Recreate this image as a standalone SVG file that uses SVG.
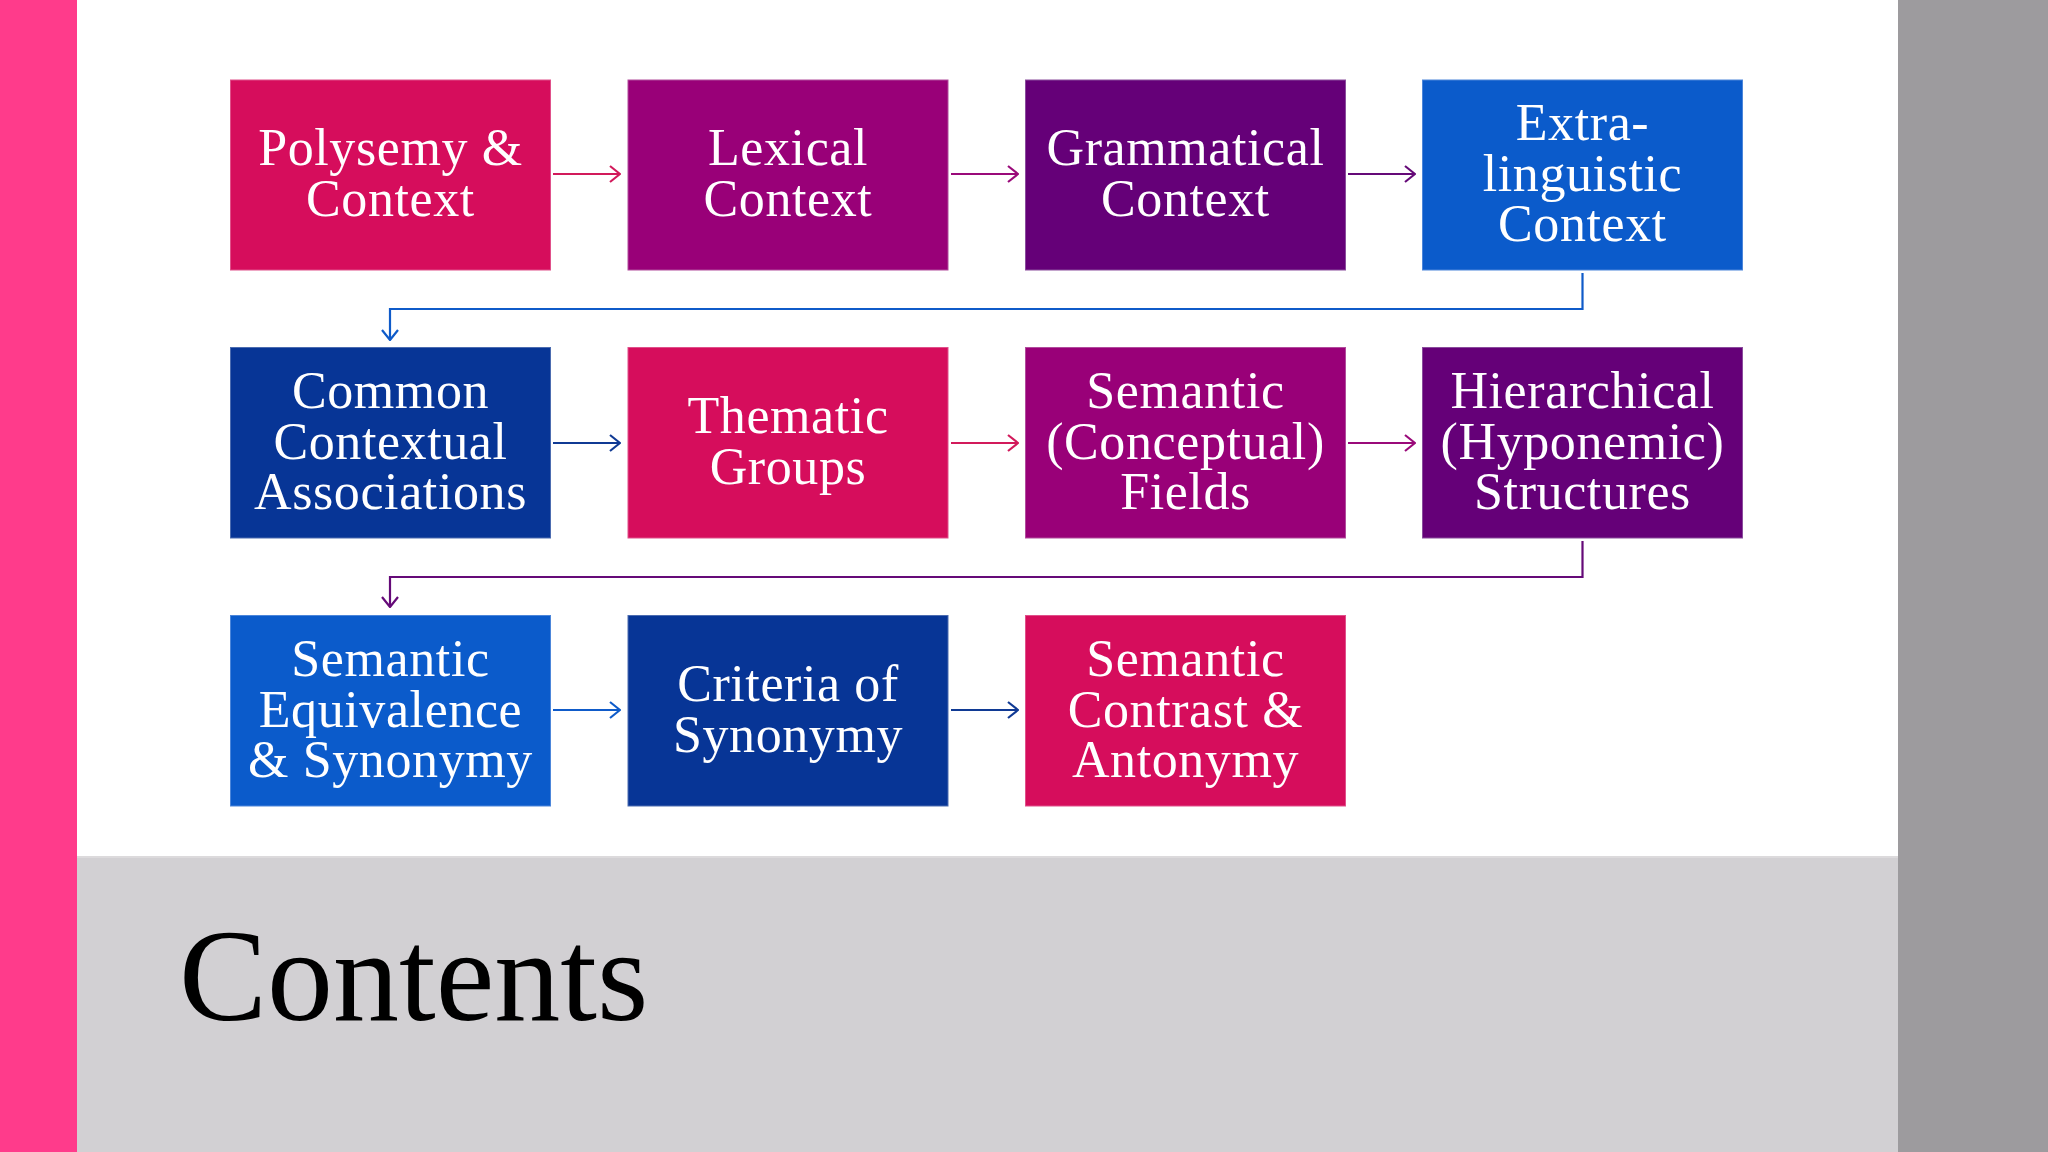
<svg xmlns="http://www.w3.org/2000/svg" width="2048" height="1152" viewBox="0 0 2048 1152">
  <style>
    .lbl { font-family: "Liberation Serif", "Times New Roman", serif; font-size: 52px; letter-spacing: 0.6px; fill: #ffffff; text-anchor: middle; }
    .title { font-family: "Liberation Serif", "Times New Roman", serif; font-size: 132px; fill: #000000; }
    .conn { fill: none; stroke-width: 2.2; }
    .pink { fill: #D60D5C; stroke: #E0508A; stroke-width: 1; }
    .mag { fill: #990078; stroke: #B14C9C; stroke-width: 1; }
    .pur { fill: #650078; stroke: #8A4C9C; stroke-width: 1; }
    .blu { fill: #0B5BCB; stroke: #4C86DA; stroke-width: 1; }
    .dbl { fill: #073596; stroke: #4C6CB0; stroke-width: 1; }
  </style>
  <defs>
    <marker id="hPink" viewBox="0 0 12 18" refX="11" refY="9" markerWidth="12" markerHeight="18" markerUnits="userSpaceOnUse" orient="auto">
      <path d="M1,1 L11,9 L1,17" fill="none" stroke="#D21A5B" stroke-width="2.2"/>
    </marker>
    <marker id="hMag" viewBox="0 0 12 18" refX="11" refY="9" markerWidth="12" markerHeight="18" markerUnits="userSpaceOnUse" orient="auto">
      <path d="M1,1 L11,9 L1,17" fill="none" stroke="#9A0A7A" stroke-width="2.2"/>
    </marker>
    <marker id="hPur" viewBox="0 0 12 18" refX="11" refY="9" markerWidth="12" markerHeight="18" markerUnits="userSpaceOnUse" orient="auto">
      <path d="M1,1 L11,9 L1,17" fill="none" stroke="#650A78" stroke-width="2.2"/>
    </marker>
    <marker id="hBlu" viewBox="0 0 12 18" refX="11" refY="9" markerWidth="12" markerHeight="18" markerUnits="userSpaceOnUse" orient="auto">
      <path d="M1,1 L11,9 L1,17" fill="none" stroke="#0F5BC9" stroke-width="2.2"/>
    </marker>
    <marker id="hDbl" viewBox="0 0 12 18" refX="11" refY="9" markerWidth="12" markerHeight="18" markerUnits="userSpaceOnUse" orient="auto">
      <path d="M1,1 L11,9 L1,17" fill="none" stroke="#103A94" stroke-width="2.2"/>
    </marker>
  </defs>

  <!-- background -->
  <rect x="0" y="0" width="2048" height="1152" fill="#ffffff"/>
  <rect x="77" y="857" width="1821" height="295" fill="#D2D0D3"/>
  <rect x="77" y="856" width="1821" height="2" fill="#DCDADC"/>
  <rect x="0" y="0" width="77" height="1152" fill="#FF3B8B"/>
  <rect x="1898" y="0" width="150" height="1152" fill="#9D9B9E"/>
  <text class="title" x="179" y="1020">Contents</text>

  <!-- connectors -->
  <g id="connectors">
    <path class="conn" stroke="#D21A5B" d="M553,174 H620" marker-end="url(#hPink)"/>
    <path class="conn" stroke="#9A0A7A" d="M951,174 H1018" marker-end="url(#hMag)"/>
    <path class="conn" stroke="#650A78" d="M1348,174 H1415" marker-end="url(#hPur)"/>
    <path class="conn" stroke="#0F5BC9" d="M1582.5,273 V309 H390 V340" marker-end="url(#hBlu)"/>
    <path class="conn" stroke="#103A94" d="M553,443 H620" marker-end="url(#hDbl)"/>
    <path class="conn" stroke="#D21A5B" d="M951,443 H1018" marker-end="url(#hPink)"/>
    <path class="conn" stroke="#9A0A7A" d="M1348,443 H1415" marker-end="url(#hMag)"/>
    <path class="conn" stroke="#650A78" d="M1582.5,541 V577 H390 V607" marker-end="url(#hPur)"/>
    <path class="conn" stroke="#0F5BC9" d="M553,710 H620" marker-end="url(#hBlu)"/>
    <path class="conn" stroke="#103A94" d="M951,710 H1018" marker-end="url(#hDbl)"/>
  </g>

  <!-- row 1 -->
  <g id="polysemy-context">
    <rect class="pink" x="230.5" y="80" width="320" height="190"/>
    <text class="lbl" x="390.5" y="165">Polysemy &amp;</text>
    <text class="lbl" x="390.5" y="216">Context</text>
  </g>
  <g id="lexical-context">
    <rect class="mag" x="628" y="80" width="320" height="190"/>
    <text class="lbl" x="788" y="165">Lexical</text>
    <text class="lbl" x="788" y="216">Context</text>
  </g>
  <g id="grammatical-context">
    <rect class="pur" x="1025.5" y="80" width="320" height="190"/>
    <text class="lbl" x="1185.5" y="165">Grammatical</text>
    <text class="lbl" x="1185.5" y="216">Context</text>
  </g>
  <g id="extra-linguistic-context">
    <rect class="blu" x="1422.5" y="80" width="320" height="190"/>
    <text class="lbl" x="1582.5" y="140">Extra-</text>
    <text class="lbl" x="1582.5" y="190.5">linguistic</text>
    <text class="lbl" x="1582.5" y="241">Context</text>
  </g>

  <!-- row 2 -->
  <g id="common-contextual-associations">
    <rect class="dbl" x="230.5" y="347.5" width="320" height="190.5"/>
    <text class="lbl" x="390.5" y="408">Common</text>
    <text class="lbl" x="390.5" y="458.5">Contextual</text>
    <text class="lbl" x="390.5" y="509">Associations</text>
  </g>
  <g id="thematic-groups">
    <rect class="pink" x="628" y="347.5" width="320" height="190.5"/>
    <text class="lbl" x="788" y="433">Thematic</text>
    <text class="lbl" x="788" y="484">Groups</text>
  </g>
  <g id="semantic-conceptual-fields">
    <rect class="mag" x="1025.5" y="347.5" width="320" height="190.5"/>
    <text class="lbl" x="1185.5" y="408">Semantic</text>
    <text class="lbl" x="1185.5" y="458.5">(Conceptual)</text>
    <text class="lbl" x="1185.5" y="509">Fields</text>
  </g>
  <g id="hierarchical-hyponemic-structures">
    <rect class="pur" x="1422.5" y="347.5" width="320" height="190.5"/>
    <text class="lbl" x="1582.5" y="408">Hierarchical</text>
    <text class="lbl" x="1582.5" y="458.5">(Hyponemic)</text>
    <text class="lbl" x="1582.5" y="509">Structures</text>
  </g>

  <!-- row 3 -->
  <g id="semantic-equivalence-synonymy">
    <rect class="blu" x="230.5" y="615.5" width="320" height="190.5"/>
    <text class="lbl" x="390.5" y="676">Semantic</text>
    <text class="lbl" x="390.5" y="726.5">Equivalence</text>
    <text class="lbl" x="390.5" y="777">&amp; Synonymy</text>
  </g>
  <g id="criteria-of-synonymy">
    <rect class="dbl" x="628" y="615.5" width="320" height="190.5"/>
    <text class="lbl" x="788" y="701">Criteria of</text>
    <text class="lbl" x="788" y="752">Synonymy</text>
  </g>
  <g id="semantic-contrast-antonymy">
    <rect class="pink" x="1025.5" y="615.5" width="320" height="190.5"/>
    <text class="lbl" x="1185.5" y="676">Semantic</text>
    <text class="lbl" x="1185.5" y="726.5">Contrast &amp;</text>
    <text class="lbl" x="1185.5" y="777">Antonymy</text>
  </g>
</svg>
